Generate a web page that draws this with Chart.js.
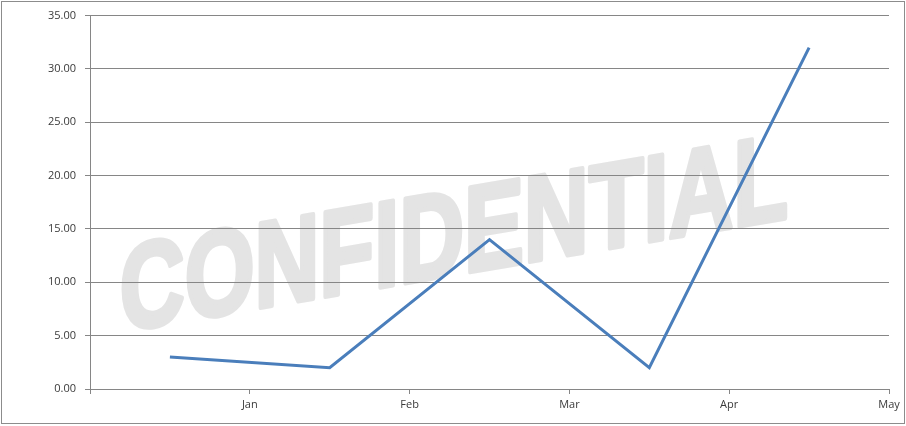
<!DOCTYPE html>
<html>
<head>
<meta charset="utf-8">
<script src="https://cdn.jsdelivr.net/npm/chart.js@4"></script>
<style>
html,body{margin:0;padding:0;background:#fff;}
#wrap{position:relative;width:906px;height:426px;}
</style>
</head>
<body>
<div id="wrap"><canvas id="c" width="906" height="426"></canvas></div>
<script>
const categories = ['Jan', 'Feb', 'Mar', 'Apr', 'May'];
const seriesValues = [3, 2, 14, 2, 32];
const xTickLabels = ['', 'Jan', 'Feb', 'Mar', 'Apr', 'May'];
const yTickMin = 0, yTickMax = 35, yTickStep = 5;
const watermarkText = 'CONFIDENTIAL';

const points = seriesValues.map((v, i) => ({x: i + 0.5, y: v}));

const decor = {
  id: 'decor',
  beforeDraw(chart) {
    const ctx = chart.ctx;
    ctx.save();
    ctx.fillStyle = '#fff';
    ctx.fillRect(0, 0, chart.width, chart.height);
    // watermark
    const L = 5;
    ctx.font = 'bold 122px "Liberation Sans", Arial, sans-serif';
    const w = ctx.measureText(watermarkText).width;
    const sx = 672 / (w + L);
    const k = 0.1705;
    ctx.translate(118 + L * sx / 2, 334 - L / 2);
    ctx.transform(sx, -k * sx, 0, 1, 0, 0);
    ctx.fillStyle = '#e4e4e4';
    ctx.strokeStyle = '#e4e4e4';
    ctx.lineWidth = L;
    ctx.lineJoin = 'round';
    ctx.textBaseline = 'alphabetic';
    ctx.textAlign = 'left';
    ctx.fillText(watermarkText, 0, 0);
    ctx.strokeText(watermarkText, 0, 0);
    ctx.restore();
  },
  afterDraw(chart) {
    const ctx = chart.ctx;
    ctx.save();
    ctx.strokeStyle = '#8c8c8c';
    ctx.lineWidth = 1;
    ctx.strokeRect(1.5, 1.5, 903, 422);
    ctx.restore();
  }
};

new Chart(document.getElementById('c'), {
  type: 'line',
  data: {
    datasets: [{
      data: points,
      borderColor: '#4a7ebb',
      borderWidth: 3,
      pointRadius: 0,
      tension: 0,
      fill: false
    }]
  },
  options: {
    responsive: false,
    animation: false,
    plugins: { legend: {display: false}, tooltip: {enabled: false} },
    layout: { padding: {top: 15, right: 17, bottom: 0, left: 0} },
    scales: {
      x: {
        type: 'linear',
        min: 0, max: xTickLabels.length - 1,
        afterBuildTicks(scale) {
          scale.ticks = xTickLabels.map((l, i) => ({value: i}));
        },
        afterFit(scale) { scale.height = 37; },
        grid: { drawOnChartArea: false, drawTicks: true, tickLength: 5, color: '#868686' },
        border: { display: true, color: '#868686' },
        ticks: {
          padding: 4,
          maxRotation: 0,
          autoSkip: false,
          color: '#3a3a3a',
          font: {family: '"Open Sans", "DejaVu Sans", sans-serif', size: 11},
          callback: (v) => xTickLabels[Math.round(v)]
        }
      },
      y: {
        min: yTickMin, max: yTickMax,
        afterFit(scale) { scale.width = 90; },
        grid: { color: '#868686', tickLength: 5, drawTicks: true },
        border: { display: true, color: '#868686' },
        ticks: {
          stepSize: yTickStep,
          padding: 9,
          color: '#3a3a3a',
          font: {family: '"Open Sans", "DejaVu Sans", sans-serif', size: 11},
          callback: (v) => Number(v).toFixed(2)
        }
      }
    }
  },
  plugins: [decor]
});
</script>
</body>
</html>
